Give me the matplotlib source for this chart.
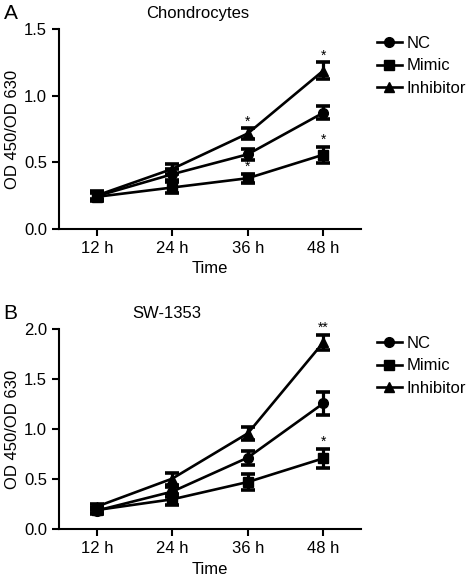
import numpy as np
import matplotlib
matplotlib.use("Agg")
import matplotlib.pyplot as plt
from matplotlib.lines import Line2D

plt.rcParams['font.family'] = ['Liberation Sans', 'DejaVu Sans']

times = ["12 h", "24 h", "36 h", "48 h"]
groups = ["NC", "Mimic", "Inhibitor"]
markers = ["o", "s", "^"]

# panel A - chondrocytes
a_nc = [0.245, 0.41, 0.56, 0.873]
a_nc_err = [0.03, 0.04, 0.04, 0.05]
a_mimic = [0.24, 0.31, 0.38, 0.557]
a_mimic_err = [0.03, 0.04, 0.035, 0.06]
a_inhib = [0.25, 0.45, 0.717, 1.19]
a_inhib_err = [0.03, 0.04, 0.04, 0.063]
a_stars = [(2, "Inhibitor", "*"), (3, "Inhibitor", "*"), (2, "Mimic", "*"), (3, "Mimic", "*")]

# panel B - SW-1353
b_nc = [0.187, 0.377, 0.717, 1.26]
b_nc_err = [0.03, 0.05, 0.07, 0.113]
b_mimic = [0.193, 0.30, 0.473, 0.71]
b_mimic_err = [0.03, 0.055, 0.083, 0.093]
b_inhib = [0.227, 0.507, 0.96, 1.87]
b_inhib_err = [0.03, 0.06, 0.067, 0.075]
b_stars = [(3, "Inhibitor", "**"), (3, "Mimic", "*")]


def draw_panel(ax, vals, errs, stars, ymax, title, title_x, letter):
    x = np.arange(len(times))
    handles = []
    for g, m in zip(groups, markers):
        ax.errorbar(x, vals[g], yerr=errs[g], color="black", marker=m,
                    markersize=7, lw=1.9, elinewidth=2.3, capsize=5,
                    capthick=2.6)
        handles.append(Line2D([], [], color="black", marker=m, markersize=7,
                              lw=1.9, label=g))
    for i, g, s in stars:
        top = vals[g][i] + errs[g][i]
        ax.annotate(s, (x[i], top), xytext=(0, 2), textcoords="offset points",
                    ha="center", va="baseline", fontsize=10)
    ax.set_xlim(-0.5, 3.5)
    ax.set_ylim(0, ymax)
    yt = np.arange(0, ymax + 0.01, 0.5)
    ax.set_yticks(yt)
    ax.set_yticklabels([f"{v:.1f}" for v in yt])
    ax.set_xticks(x)
    ax.set_xticklabels(times)
    ax.spines["top"].set_visible(False)
    ax.spines["right"].set_visible(False)
    ax.spines["left"].set_linewidth(1.5)
    ax.spines["bottom"].set_linewidth(1.5)
    ax.tick_params(direction="out", length=5, width=1.5, labelsize=12)
    ax.set_xlabel("Time", fontsize=12, labelpad=4)
    ax.set_ylabel("OD 450/OD 630", fontsize=12, labelpad=3)
    ax.text(title_x, 1.04, title, transform=ax.transAxes, ha="center",
            va="bottom", fontsize=12)
    ax.text(-0.16, 1.03, letter, transform=ax.transAxes, ha="center",
            va="bottom", fontsize=15)
    ax.legend(handles=handles, loc="upper left", bbox_to_anchor=(1.03, 1.0),
              frameon=False, fontsize=12, handlelength=1.5, handletextpad=0.3,
              labelspacing=0.45, borderaxespad=0)


fig = plt.figure(figsize=(4.74, 5.83), dpi=100)
ax1 = fig.add_axes([0.1245, 0.6077, 0.6375, 0.342])
ax2 = fig.add_axes([0.1245, 0.0921, 0.6375, 0.3431])

draw_panel(ax1,
           {"NC": a_nc, "Mimic": a_mimic, "Inhibitor": a_inhib},
           {"NC": a_nc_err, "Mimic": a_mimic_err, "Inhibitor": a_inhib_err},
           a_stars, 1.5, "Chondrocytes", 0.46, "A")
draw_panel(ax2,
           {"NC": b_nc, "Mimic": b_mimic, "Inhibitor": b_inhib},
           {"NC": b_nc_err, "Mimic": b_mimic_err, "Inhibitor": b_inhib_err},
           b_stars, 2.0, "SW-1353", 0.355, "B")

fig.savefig("out.png", dpi=100)
